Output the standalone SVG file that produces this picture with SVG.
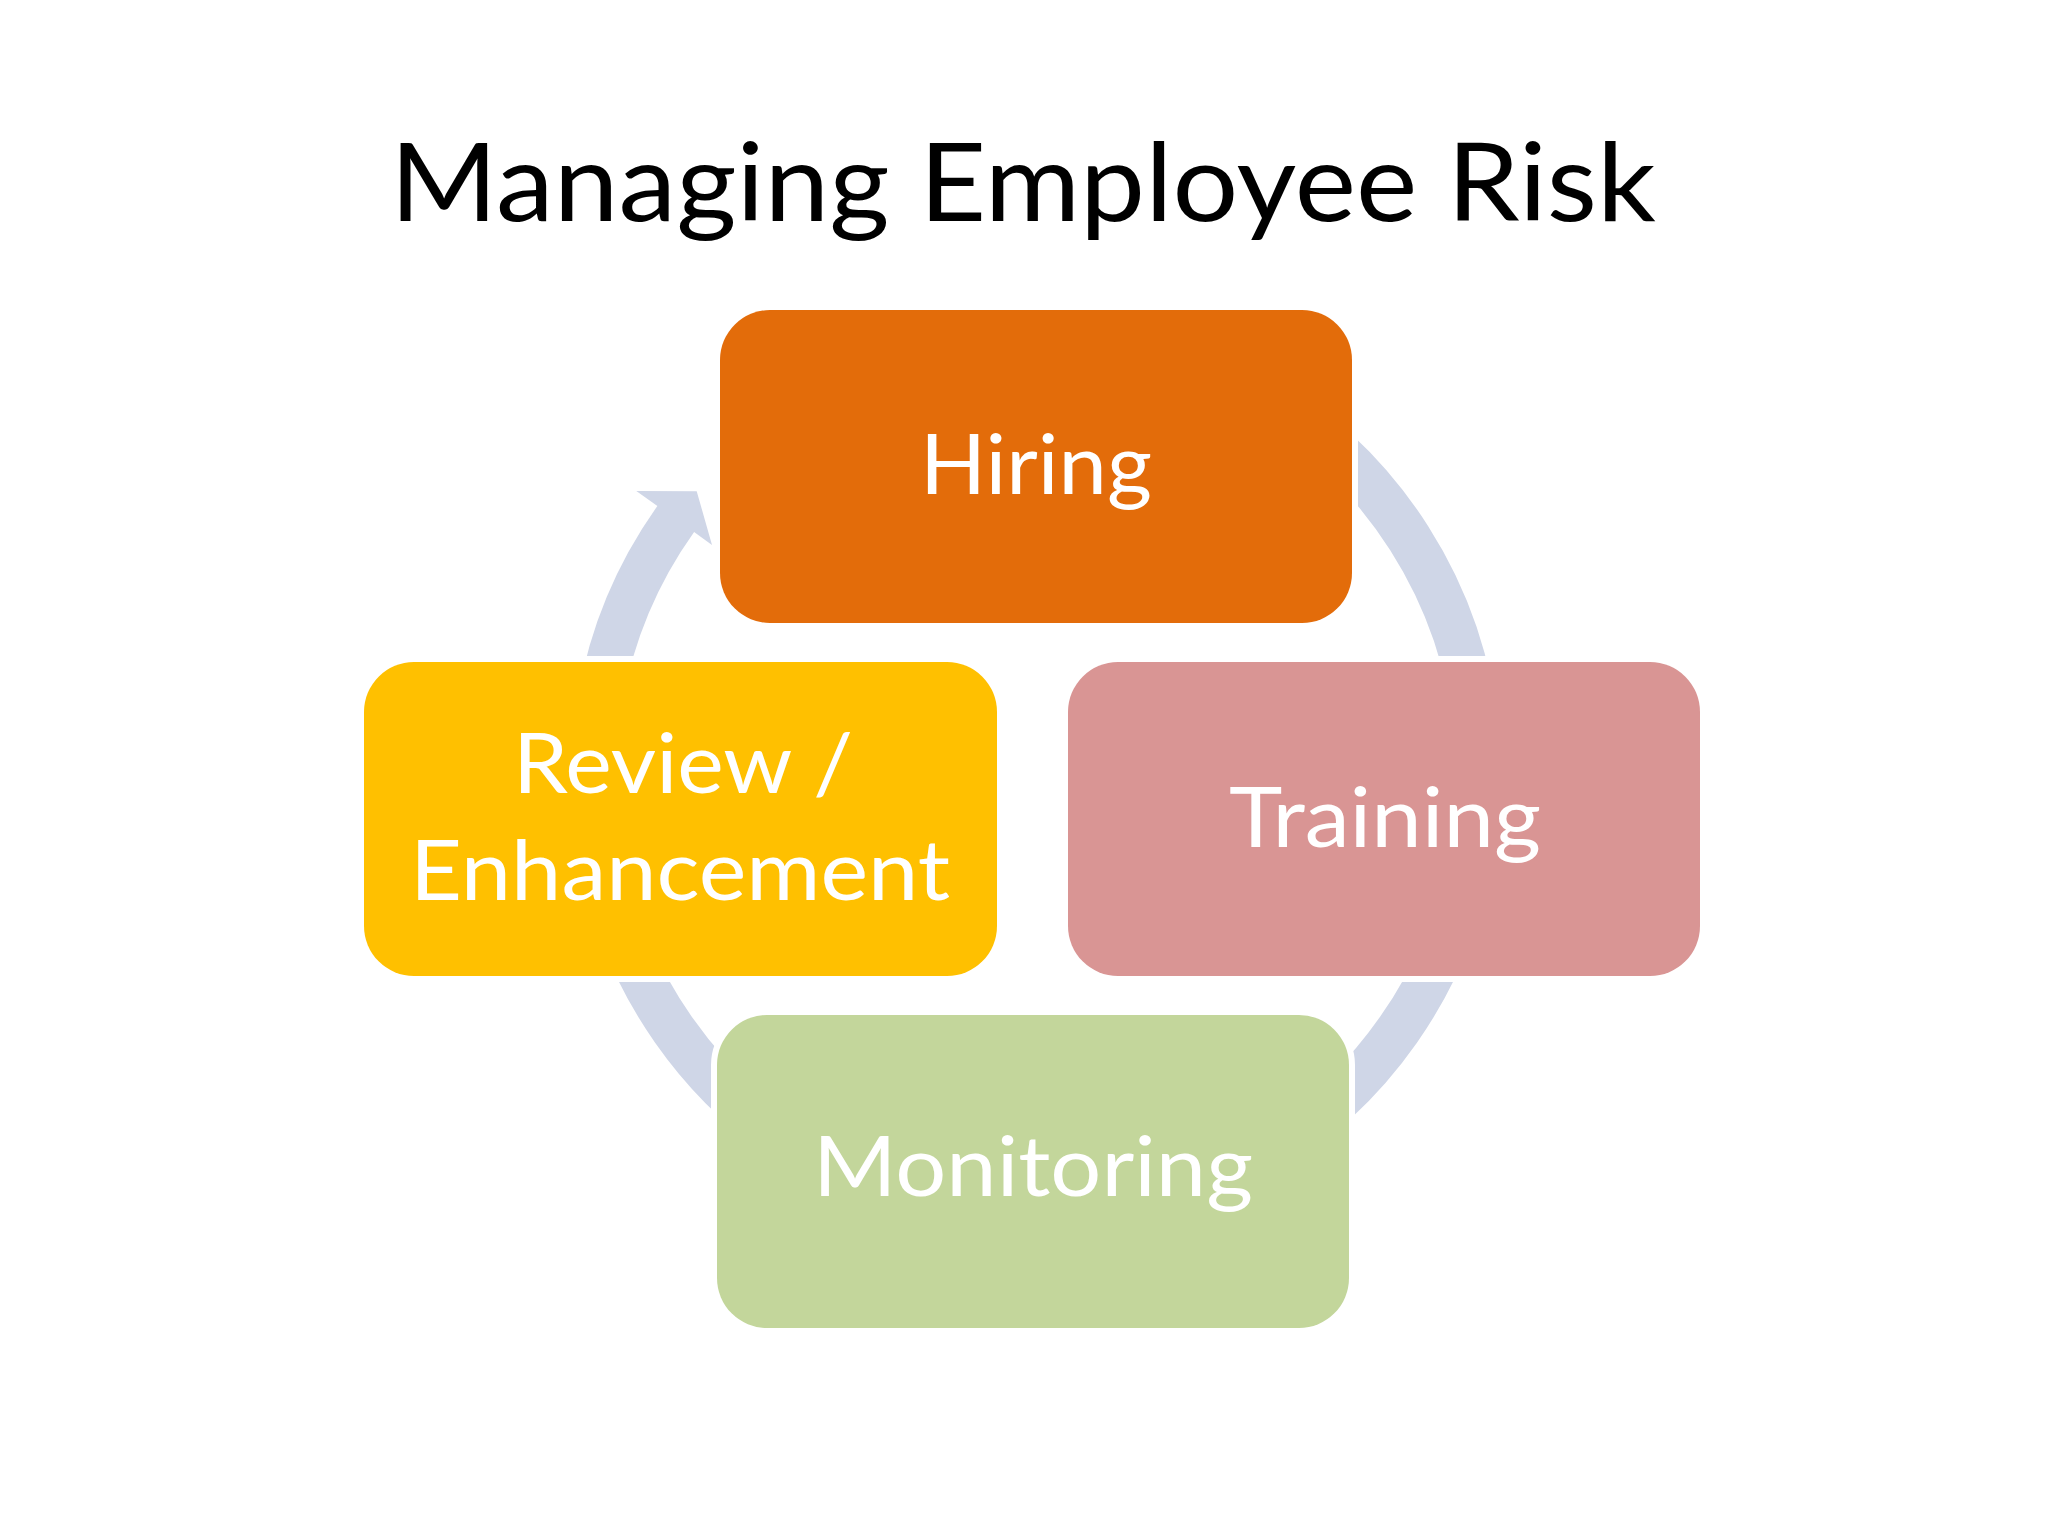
<svg xmlns="http://www.w3.org/2000/svg" width="2048" height="1536" viewBox="0 0 2048 1536">
  <style>
    .title { font-family: Lato, "Liberation Sans", sans-serif; font-size: 109px; fill: #000000; }
    .lbl { font-family: Lato, "Liberation Sans", sans-serif; font-size: 84px; fill: #FFFFFF; text-anchor: middle; }
    .box { stroke: #FFFFFF; stroke-width: 12; paint-order: stroke; }
    .arc { fill: none; stroke: #CFD6E7; stroke-width: 45; }
  </style>
  <rect x="0" y="0" width="2048" height="1536" fill="#FFFFFF"/>
  <text class="title" x="390" y="221" textLength="1266" lengthAdjust="spacingAndGlyphs">Managing Employee Risk</text>

  <g id="connectors">
    <path class="arc" d="M 1257.3 392.8 A 442.5 442.5 0 0 1 1476.8 737.4"/>
    <path class="arc" d="M 1471.8 852.8 A 442.5 442.5 0 0 1 1257.3 1159.2"/>
    <path class="arc" d="M 814.8 1159.2 A 442.5 442.5 0 0 1 600.2 852.8"/>
    <path fill="#CFD6E7" d="M 578.1 695.3 A 465 465 0 0 1 657.4 506.0 L 636.3 490.9 L 696.7 491.2 L 712.0 544.9 L 694.1 532.1 A 420 420 0 0 0 622.4 703.1 Z"/>
  </g>

  <g id="hiring">
    <rect class="box" x="720" y="310" width="632" height="313" rx="50" ry="50" fill="#E36C0A"/>
    <text class="lbl" x="1036" y="494" textLength="232" lengthAdjust="spacingAndGlyphs">Hiring</text>
  </g>
  <g id="training">
    <rect class="box" x="1068" y="662" width="632" height="314" rx="50" ry="50" fill="#D99594"/>
    <text class="lbl" x="1385" y="847" textLength="312" lengthAdjust="spacingAndGlyphs">Training</text>
  </g>
  <g id="review">
    <rect class="box" x="364" y="662" width="633" height="314" rx="50" ry="50" fill="#FFC000"/>
    <text class="lbl" x="683" y="793" textLength="340" lengthAdjust="spacingAndGlyphs">Review /</text>
    <text class="lbl" x="680" y="900" textLength="540" lengthAdjust="spacingAndGlyphs">Enhancement</text>
  </g>
  <g id="monitoring">
    <rect class="box" x="717" y="1015" width="632" height="313" rx="50" ry="50" fill="#C3D69B"/>
    <text class="lbl" x="1033" y="1196" textLength="440" lengthAdjust="spacingAndGlyphs">Monitoring</text>
  </g>
</svg>
